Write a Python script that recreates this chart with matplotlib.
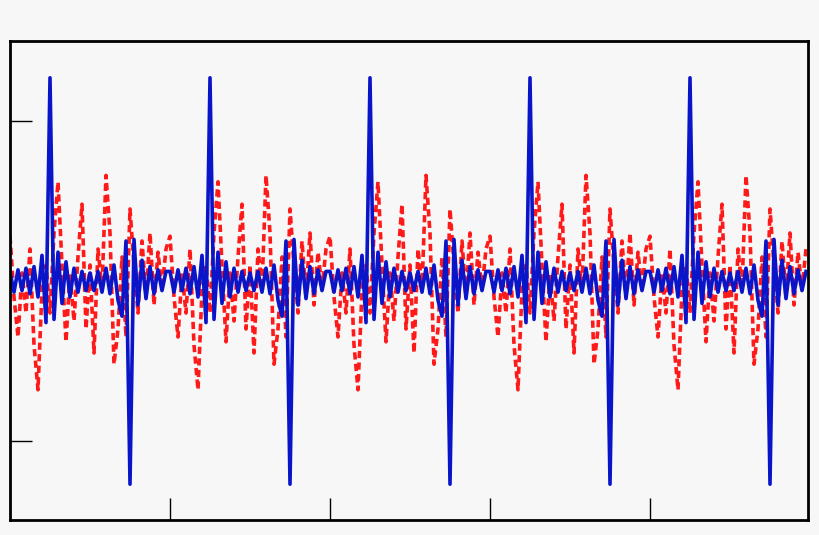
import numpy as np
from matplotlib import pyplot as plt

# one period of each signal, sampled every 1/40 of a period
blue_period = [0.06, -0.07, 0.07, -0.06, 0.08, -0.08, 0.09, -0.10,
               0.16, -0.26, 1.27, -0.24, 0.18, -0.14, 0.12, -0.10,
               0.08, -0.07, 0.06, -0.06, 0.05, -0.06, 0.06, -0.07,
               0.08, -0.08, 0.10, -0.12, -0.22, 0.25, -1.27, 0.26,
               -0.15, 0.13, -0.11, 0.09, -0.08, 0.07, -0.06, 0.06]
red_period = [0.28, -0.10, -0.35, 0.05, -0.20, 0.20, -0.40, -0.68,
              -0.05, 0.10, -0.20, 0.30, 0.62, 0.10, -0.38, 0.05,
              -0.25, 0.15, 0.48, -0.30, 0.10, -0.45, 0.20, -0.05,
              0.66, 0.30, -0.52, -0.30, 0.15, -0.35, 0.45, 0.10,
              -0.20, 0.25, -0.10, 0.30, -0.15, 0.18, -0.05, 0.20]
n_periods = 5
x_ticks = [1, 2, 3, 4]
y_ticks = [-1, 1]

blue = np.tile(blue_period, n_periods)
red = np.tile(red_period, n_periods)
x = np.arange(len(blue)) / len(blue_period)

fig = plt.figure(figsize=(8.2, 5.35), dpi=100, facecolor='#f7f7f7')
ax = fig.add_axes([10 / 820, 15 / 535, 798 / 820, 479 / 535])
ax.set_facecolor('#f7f7f7')

ax.plot(x, red, color='#ff1a1a', lw=2.6, ls=(0, (2, 1.2)))
ax.plot(x, blue, color='#0a14c8', lw=2.6)

ax.set_xlim(0, 798 / 160)
ax.set_ylim(-479 / 160 + 1.5, 1.5)
ax.set_xticks(x_ticks)
ax.set_yticks(y_ticks)
ax.set_xticklabels([])
ax.set_yticklabels([])
ax.tick_params(direction='in', length=16, width=1)
for s in ax.spines.values():
    s.set_linewidth(2)

fig.savefig('out.png', facecolor=fig.get_facecolor())
